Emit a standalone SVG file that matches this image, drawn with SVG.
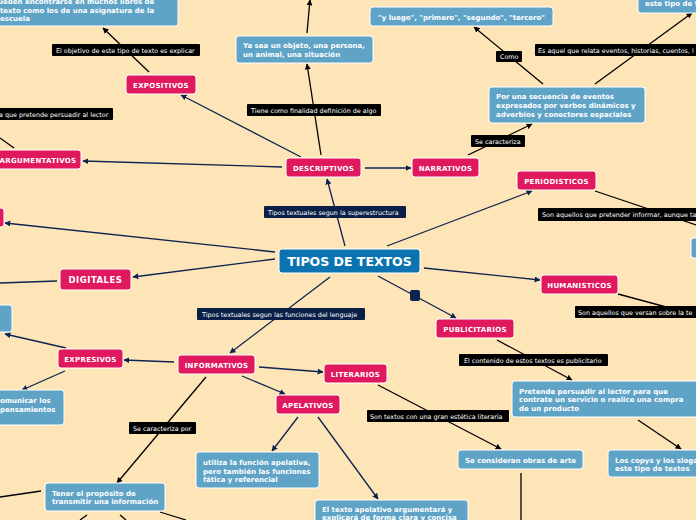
<svg xmlns="http://www.w3.org/2000/svg" width="696" height="520" viewBox="0 0 696 520">
<defs>
<style>
.pk{fill:#e0195f;stroke:#fff;stroke-width:1}
.bl{fill:#5fa3c6;stroke:#fff;stroke-width:1}
.pt{font-family:"DejaVu Sans",sans-serif;font-size:7px;font-weight:bold;fill:#fff;letter-spacing:0.3px}
.bt{font-family:"DejaVu Sans",sans-serif;font-size:7px;font-weight:bold;fill:#fff}
.lb{fill:#000}
.ln{fill:#0a1f48}
.lt{font-family:"DejaVu Sans",sans-serif;font-size:6.4px;fill:#fff}
.cn{stroke:#0d2350;stroke-width:1.3;fill:none}
.ck{stroke:#000;stroke-width:1.3;fill:none}
</style>
<marker id="an" viewBox="0 0 10 10" refX="9" refY="5" markerWidth="6" markerHeight="6" orient="auto" markerUnits="userSpaceOnUse"><path d="M0,0L10,5L0,10z" fill="#0d2350"/></marker>
<marker id="ak" viewBox="0 0 10 10" refX="9" refY="5" markerWidth="6" markerHeight="6" orient="auto" markerUnits="userSpaceOnUse"><path d="M0,0L10,5L0,10z" fill="#000"/></marker>
</defs>
<rect width="696" height="520" fill="#fee5b8"/>
<g id="connectors">
<path class="cn" d="M345,246L327,179" marker-end="url(#an)"/>
<path class="cn" d="M301,157L181,95" marker-end="url(#an)"/>
<path class="cn" d="M282,167L83,161" marker-end="url(#an)"/>
<path class="cn" d="M365,168L411,168" marker-end="url(#an)"/>
<path class="ck" d="M321,155L307,64" marker-end="url(#ak)"/>
<path class="ck" d="M307,33L310,0" marker-end="url(#ak)"/>
<path class="ck" d="M149,72L103,28" marker-end="url(#ak)"/>
<path class="ck" d="M14,148L0,138"/>
<path class="cn" d="M275,252L5,223" marker-end="url(#an)"/>
<path class="cn" d="M275,259L133,277" marker-end="url(#an)"/>
<path class="cn" d="M57,281L0,283"/>
<path class="cn" d="M387,246L532,191" marker-end="url(#an)"/>
<path class="cn" d="M424,268L540,280" marker-end="url(#an)"/>
<path class="cn" d="M378,276L456,318" marker-end="url(#an)"/>
<path class="cn" d="M330,277L230,353" marker-end="url(#an)"/>
<path class="ck" d="M468,155L532,124" marker-end="url(#ak)"/>
<path class="ck" d="M543,84L474,27" marker-end="url(#ak)"/>
<path class="ck" d="M595,84L692,13" marker-end="url(#ak)"/>
<path class="ck" d="M595,191L696,225"/>
<path class="ck" d="M618,294L696,315"/>
<path class="ck" d="M497,340L572,380" marker-end="url(#ak)"/>
<path class="ck" d="M638,420L681,449" marker-end="url(#ak)"/>
<path class="ck" d="M378,385L501,449" marker-end="url(#ak)"/>
<path class="ck" d="M521,473L521,520"/>
<path class="cn" d="M259,367L323,372" marker-end="url(#an)"/>
<path class="cn" d="M242,376L285,394" marker-end="url(#an)"/>
<path class="cn" d="M174,362L124,360" marker-end="url(#an)"/>
<path class="ck" d="M206,377L117,483" marker-end="url(#ak)"/>
<path class="cn" d="M66,348L5,334" marker-end="url(#an)"/>
<path class="cn" d="M65,371L22,390" marker-end="url(#an)"/>
<path class="cn" d="M298,417L272,451" marker-end="url(#an)"/>
<path class="cn" d="M318,417L378,499" marker-end="url(#an)"/>
<path class="ck" d="M41,491L0,497M87,515L80,520M120,515L126,520M160,512L186,520"/>
<rect x="410" y="290" width="10" height="11" rx="2" fill="#0d2350"/>
</g>
<g id="labels">
<rect class="lb" x="52" y="44" width="148" height="12" rx="1"/><text class="lt" x="56" y="52.5">El objetivo de este tipo de texto es explicar</text>
<rect class="lb" x="-5" y="108" width="118" height="12" rx="1"/><text class="lt" x="-1" y="116.5">a que pretende persuadir al lector</text>
<rect class="lb" x="247" y="104" width="134" height="12" rx="1"/><text class="lt" x="251" y="112.5">Tiene como finalidad definición de algo</text>
<rect class="ln" x="264" y="206" width="142" height="12" rx="1"/><text class="lt" x="268" y="214.5">Tipos textuales segun la superestructura</text>
<rect class="lb" x="496" y="51" width="26" height="11" rx="1"/><text class="lt" x="500" y="59">Como</text>
<rect class="lb" x="535" y="44" width="170" height="12" rx="1"/><text class="lt" x="538" y="52.5">Es aquel que relata eventos, historias, cuentos, l</text>
<rect class="lb" x="471" y="135" width="54" height="12" rx="1"/><text class="lt" x="475" y="143.5">Se caracteriza</text>
<rect class="lb" x="538" y="208" width="170" height="13" rx="1"/><text class="lt" x="542" y="217">Son aquellos que pretender informar, aunque ta</text>
<rect class="ln" x="197" y="308" width="168" height="12" rx="1"/><text class="lt" x="202" y="316.5">Tipos textuales segun las funciones del lenguaje</text>
<rect class="lb" x="575" y="306" width="130" height="12" rx="1"/><text class="lt" x="578" y="314.5">Son aquellos que versan sobre la te</text>
<rect class="lb" x="459" y="354" width="149" height="12" rx="1"/><text class="lt" x="464" y="362.5">El contenido de estos textos es publicitario</text>
<rect class="lb" x="367" y="410" width="142" height="12" rx="1"/><text class="lt" x="370" y="418.5">Son textos con una gran estética literaria</text>
<rect class="lb" x="129" y="422" width="67" height="12" rx="1"/><text class="lt" x="133" y="430.5">Se caracteriza por</text>
</g>
<g id="n-tipos"><rect x="279" y="249" width="141" height="24" rx="3" fill="#0b74b0" stroke="#fff"/><text x="349.5" y="266" text-anchor="middle" font-family="DejaVu Sans,sans-serif" font-size="12.5" font-weight="bold" fill="#fff">TIPOS DE TEXTOS</text></g>
<g id="n-descriptivos"><rect class="pk" x="286" y="158" width="75" height="19" rx="3"/><text class="pt" x="323.5" y="170.5" text-anchor="middle">DESCRIPTIVOS</text></g>
<g id="n-expositivos"><rect class="pk" x="126" y="75" width="70" height="19" rx="3"/><text class="pt" x="161" y="87.5" text-anchor="middle">EXPOSITIVOS</text></g>
<g id="n-argumentativos"><rect class="pk" x="-5" y="150" width="86" height="19" rx="3"/><text class="pt" x="38" y="162.5" text-anchor="middle">ARGUMENTATIVOS</text></g>
<g id="n-left"><rect class="pk" x="-5" y="208" width="9" height="19" rx="3"/></g>
<g id="n-digitales"><rect class="pk" x="60" y="269" width="71" height="21" rx="3"/><text x="95.5" y="283" text-anchor="middle" font-family="DejaVu Sans,sans-serif" font-size="8.5" font-weight="bold" fill="#fff" letter-spacing="0.5">DIGITALES</text></g>
<g id="n-narrativos"><rect class="pk" x="412" y="158" width="67" height="19" rx="3"/><text class="pt" x="445.5" y="170.5" text-anchor="middle">NARRATIVOS</text></g>
<g id="n-periodisticos"><rect class="pk" x="517" y="171" width="79" height="19" rx="3"/><text class="pt" x="556.5" y="183.5" text-anchor="middle">PERIODISTICOS</text></g>
<g id="n-humanisticos"><rect class="pk" x="541" y="275" width="77" height="19" rx="3"/><text class="pt" x="579.5" y="287.5" text-anchor="middle">HUMANISTICOS</text></g>
<g id="n-publicitarios"><rect class="pk" x="436" y="319" width="78" height="19" rx="3"/><text class="pt" x="475" y="331.5" text-anchor="middle">PUBLICITARIOS</text></g>
<g id="n-literarios"><rect class="pk" x="324" y="364" width="63" height="19" rx="3"/><text class="pt" x="355.5" y="376.5" text-anchor="middle">LITERARIOS</text></g>
<g id="n-informativos"><rect class="pk" x="178" y="355" width="77" height="19" rx="3"/><text class="pt" x="216.5" y="367.5" text-anchor="middle">INFORMATIVOS</text></g>
<g id="n-expresivos"><rect class="pk" x="58" y="349" width="65" height="19" rx="3"/><text class="pt" x="90.5" y="361.5" text-anchor="middle">EXPRESIVOS</text></g>
<g id="n-apelativos"><rect class="pk" x="276" y="395" width="64" height="19" rx="3"/><text class="pt" x="308" y="407.5" text-anchor="middle">APELATIVOS</text></g>
<g id="b-exp"><rect class="bl" x="-5" y="-10" width="183" height="36" rx="3"/><text class="bt" x="-2" y="4">ueden encontrarse en muchos libros de</text><text class="bt" x="0" y="12.5">texto como los de una asignatura de la</text><text class="bt" x="0" y="20.5">escuela</text></g>
<g id="b-yasea"><rect class="bl" x="236" y="36" width="137" height="27" rx="3"/><text class="bt" x="243" y="48">Ya sea un objeto, una persona,</text><text class="bt" x="243" y="57">un animal, una situación</text></g>
<g id="b-yluego"><rect class="bl" x="370" y="7" width="183" height="19" rx="3"/><text class="bt" x="461.5" y="20" text-anchor="middle">"y luego", "primero", "segundo", "tercero"</text></g>
<g id="b-tr"><rect class="bl" x="638" y="-10" width="70" height="23" rx="3"/><text class="bt" x="645" y="6">este tipo de t</text></g>
<g id="b-secuencia"><rect class="bl" x="489" y="87" width="156" height="36" rx="3"/><text class="bt" x="496" y="99">Por una secuencia de eventos</text><text class="bt" x="496" y="108">expresados por verbos dinámicos y</text><text class="bt" x="496" y="116.5">adverbios y conectores espaciales</text></g>
<g id="b-r"><rect class="bl" x="691" y="238" width="12" height="20" rx="3"/></g>
<g id="b-l"><rect class="bl" x="-5" y="305" width="17" height="27" rx="3"/></g>
<g id="b-comunicar"><rect class="bl" x="-5" y="390" width="69" height="35" rx="3"/><text class="bt" x="0" y="403">omunicar los</text><text class="bt" x="0" y="411.5">pensamientos</text></g>
<g id="b-pretende"><rect class="bl" x="512" y="381" width="194" height="36" rx="3"/><text class="bt" x="519" y="393.5">Pretende persuadir al lector para que</text><text class="bt" x="519" y="402">contrate un servicio o realice una compra</text><text class="bt" x="519" y="410.5">de un producto</text></g>
<g id="b-arte"><rect class="bl" x="458" y="450" width="125" height="19" rx="3"/><text class="bt" x="520.5" y="462.5" text-anchor="middle">Se consideran obras de arte</text></g>
<g id="b-copys"><rect class="bl" x="608" y="450" width="98" height="27" rx="3"/><text class="bt" x="615" y="462.5">Los copys y los sloga</text><text class="bt" x="615" y="471">este tipo de textos</text></g>
<g id="b-utiliza"><rect class="bl" x="196" y="452" width="123" height="36" rx="3"/><text class="bt" x="203" y="465">utiliza la función apelativa,</text><text class="bt" x="203" y="473.5">pero también las funciones</text><text class="bt" x="203" y="482">fática y referencial</text></g>
<g id="b-tener"><rect class="bl" x="45" y="483" width="120" height="28" rx="3"/><text class="bt" x="52" y="496">Tener el propósito de</text><text class="bt" x="52" y="504">transmitir una información</text></g>
<g id="b-apel"><rect class="bl" x="315" y="500" width="153" height="30" rx="3"/><text class="bt" x="322" y="512">El texto apelativo argumentará y</text><text class="bt" x="322" y="520">explicará de forma clara y concisa</text></g>
</svg>
